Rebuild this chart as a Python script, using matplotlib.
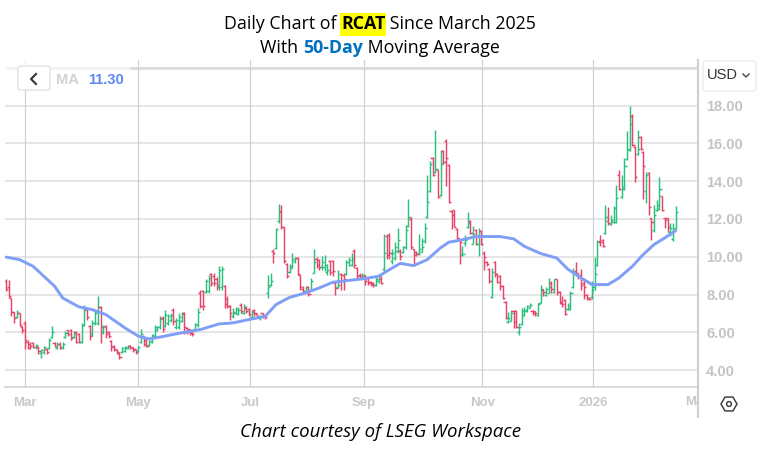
from matplotlib import pyplot as plt
from matplotlib.collections import LineCollection
from matplotlib.lines import Line2D
from matplotlib.patches import FancyBboxPatch, Rectangle, RegularPolygon, Circle
from matplotlib.transforms import Bbox

W, H = 761, 454

opens = [
    8.7, 8.4, 7.8, 7.1, 6.8, 7.0, 6.3, 6.5, 5.5, 5.4,
    5.45, 5.2, 5.25, 4.9, 4.95, 5.1, 5.15, 5.75, 5.45, 5.15,
    5.4, 5.2, 5.75, 6.1, 6.15, 5.75, 6.0, 5.9, 5.5, 6.4,
    7.25, 6.35, 5.9, 6.5, 6.5, 7.35, 6.0, 6.35, 6.0, 5.55,
    5.3, 5.05, 4.9, 4.95, 5.0, 5.15, 5.3, 5.2, 5.1, 5.0,
    5.5, 5.8, 5.6, 5.35, 5.5, 5.8, 6.15, 6.3, 6.75, 6.35,
    6.5, 6.65, 7.2, 6.3, 6.3, 6.6, 7.05, 6.25, 6.2, 6.05,
    6.2, 6.4, 8.1, 8.2, 8.15, 8.2, 9.1, 9.0, 8.85, 8.5,
    8.4, 8.45, 7.75, 7.4, 6.85, 7.0, 6.95, 7.45, 7.0, 7.3,
    7.25, 6.8, 7.2, 6.95, 6.75, 7.0, 6.9, 8.1, 8.5, 10.3,
    10.45, 11.9, 12.4, 11.6, 9.6, 9.2, 9.5, 9.75, 9.95, 9.05,
    8.3, 8.2, 8.4, 8.25, 9.15, 9.9, 9.85, 9.45, 9.45, 9.2,
    9.8, 9.75, 8.6, 8.4, 9.1, 9.05, 9.1, 9.7, 9.55, 10.3,
    9.4, 9.05, 8.9, 9.0, 8.9, 8.65, 8.6, 8.5, 8.7, 8.85,
    9.35, 11.1, 11.15, 9.75, 9.95, 10.3, 10.3, 10.25, 10.5, 11.65,
    12.0, 10.4, 10.25, 10.2, 10.25, 10.85, 12.1, 13.5, 15.2, 14.5,
    14.6, 13.25, 15.6, 16.1, 14.85, 12.4, 12.45, 11.45, 10.9, 10.1,
    10.75, 11.55, 11.9, 10.7, 11.4, 10.7, 11.35, 10.2, 9.7, 9.35,
    7.85, 9.7, 9.1, 9.0, 8.45, 7.6, 6.55, 6.6, 7.15, 7.15,
    6.0, 6.45, 6.9, 7.15, 7.3, 7.15, 7.15, 6.9, 7.55, 8.25,
    8.0, 8.1, 8.6, 8.15, 8.8, 8.15, 7.55, 7.7, 7.25, 7.25,
    8.4, 9.25, 9.1, 9.05, 8.6, 8.0, 7.8, 7.85, 8.4, 9.55,
    10.85, 10.9, 11.25, 11.9, 11.75, 11.85, 11.85, 14.3, 13.15, 13.6,
    15.15, 15.65, 17.45, 15.8, 15.45, 16.35, 15.55, 13.5, 14.45, 12.05,
    11.4, 12.5, 12.55, 13.2, 12.05, 12.05, 11.3, 10.95, 11.5,
]
highs = [
    8.85, 8.75, 7.82, 7.1, 7.17, 7.03, 6.32, 6.6, 5.6, 5.47,
    5.5, 5.4, 5.3, 5.1, 5.3, 5.18, 5.7, 6.33, 5.5, 5.47,
    5.47, 5.47, 6.05, 6.15, 6.2, 6.05, 6.05, 5.95, 6.5, 7.47,
    7.3, 6.4, 6.67, 7.2, 7.95, 7.4, 6.4, 6.4, 6.05, 5.6,
    5.35, 5.1, 4.95, 5.2, 5.3, 5.35, 5.35, 5.25, 5.12, 5.3,
    6.18, 5.8, 5.65, 5.6, 5.9, 6.4, 6.35, 6.85, 6.85, 7.17,
    6.95, 7.0, 7.3, 6.75, 7.0, 7.1, 7.1, 6.3, 6.2, 6.05,
    6.5, 7.3, 8.25, 8.25, 8.8, 9.05, 9.15, 9.15, 8.95, 9.5,
    9.5, 8.5, 7.9, 7.45, 7.3, 7.35, 7.35, 7.55, 7.5, 7.4,
    7.3, 7.2, 7.25, 6.95, 6.9, 7.0, 6.9, 9.05, 9.15, 10.4,
    11.5, 12.8, 12.75, 11.6, 9.67, 9.6, 10.2, 10.0, 10.0, 9.05,
    8.45, 8.45, 8.45, 8.9, 10.4, 10.0, 9.9, 10.05, 10.1, 9.6,
    9.85, 9.85, 8.7, 9.3, 9.15, 9.15, 9.85, 10.0, 10.2, 10.4,
    9.45, 9.15, 9.15, 9.05, 8.95, 8.7, 8.65, 9.0, 9.1, 9.0,
    11.2, 11.2, 11.25, 10.4, 10.8, 11.5, 10.4, 10.55, 11.7, 13.05,
    12.1, 10.4, 10.3, 11.2, 11.0, 11.8, 14.35, 15.05, 15.3, 16.7,
    14.6, 15.65, 15.65, 16.25, 14.9, 12.5, 12.5, 11.5, 10.9, 10.55,
    11.15, 12.35, 11.95, 11.65, 11.45, 11.5, 11.4, 10.3, 9.75, 9.4,
    9.4, 9.76, 9.15, 9.05, 8.5, 7.65, 7.1, 7.2, 7.2, 7.2,
    6.5, 7.3, 7.35, 7.45, 7.55, 7.2, 7.15, 7.55, 8.5, 8.3,
    8.4, 8.9, 8.7, 8.85, 8.85, 8.2, 7.9, 7.75, 7.55, 8.2,
    9.4, 9.7, 9.15, 9.35, 8.75, 8.05, 7.85, 8.7, 10.0, 10.9,
    11.15, 10.95, 12.75, 12.65, 12.2, 12.7, 13.8, 14.6, 14.35, 15.2,
    16.65, 18.0, 17.55, 15.85, 16.7, 16.4, 15.6, 14.5, 14.5, 12.05,
    12.75, 13.0, 14.2, 13.2, 12.05, 12.05, 11.8, 11.8, 12.7,
]
lows = [
    8.2, 7.82, 6.85, 6.5, 6.77, 6.32, 5.97, 5.1, 5.1, 5.13,
    5.18, 5.13, 4.83, 4.65, 4.83, 4.83, 5.1, 5.7, 5.25, 5.1,
    5.1, 5.13, 5.7, 5.8, 5.6, 5.7, 5.45, 5.45, 5.45, 6.33,
    6.67, 5.6, 5.8, 6.4, 6.4, 5.45, 5.9, 5.7, 5.7, 5.0,
    5.0, 4.83, 4.6, 4.9, 4.95, 5.1, 5.1, 4.95, 4.83, 4.95,
    5.45, 5.27, 5.23, 5.27, 5.45, 5.7, 6.05, 6.2, 6.0, 6.3,
    6.4, 6.55, 6.4, 6.2, 6.2, 6.55, 5.9, 5.9, 5.85, 5.8,
    6.15, 6.3, 7.3, 7.2, 8.1, 8.1, 8.45, 8.45, 8.25, 8.25,
    8.25, 7.3, 7.3, 6.67, 6.75, 6.95, 6.9, 7.0, 6.95, 7.05,
    6.85, 6.75, 6.85, 6.75, 6.67, 6.75, 6.7, 7.82, 8.45, 9.67,
    10.4, 11.8, 11.45, 9.67, 8.9, 9.15, 9.4, 9.67, 9.05, 8.25,
    8.1, 8.15, 7.9, 8.25, 9.15, 9.4, 9.3, 9.3, 9.25, 9.05,
    9.05, 9.0, 8.0, 8.35, 8.25, 8.25, 9.05, 9.5, 9.5, 9.4,
    8.9, 8.9, 8.85, 8.5, 8.5, 8.45, 8.4, 8.45, 8.6, 8.55,
    9.25, 9.9, 9.9, 9.64, 9.85, 10.2, 9.85, 10.2, 10.4, 11.6,
    10.4, 9.64, 10.05, 10.1, 10.25, 10.75, 12.05, 13.45, 14.25, 14.45,
    13.1, 13.2, 14.9, 13.75, 12.85, 11.45, 11.55, 10.95, 9.6, 10.05,
    10.55, 11.5, 11.2, 10.65, 10.6, 10.05, 10.6, 9.3, 9.5, 8.6,
    7.8, 8.95, 8.6, 8.25, 7.75, 6.7, 6.5, 6.6, 6.25, 6.25,
    5.85, 6.4, 6.85, 7.1, 7.3, 6.9, 6.85, 6.85, 7.55, 7.95,
    7.95, 8.1, 8.1, 8.1, 8.0, 7.5, 7.35, 6.9, 7.2, 7.2,
    8.35, 9.0, 8.8, 8.25, 7.75, 7.7, 7.7, 7.75, 8.25, 9.5,
    10.55, 10.5, 11.2, 11.7, 11.7, 11.8, 11.8, 13.55, 13.1, 13.55,
    15.1, 15.6, 15.85, 13.95, 15.4, 15.65, 13.05, 12.85, 12.2, 10.9,
    11.3, 12.4, 12.5, 12.4, 11.5, 11.3, 11.1, 10.85, 11.45,
]
closes = [
    8.3, 7.9, 7.1, 6.75, 7.05, 6.4, 6.1, 5.6, 5.15, 5.3,
    5.25, 5.35, 5.0, 5.05, 5.2, 4.95, 5.6, 6.0, 5.3, 5.4,
    5.15, 5.4, 5.95, 5.9, 5.7, 5.95, 5.5, 5.5, 6.4, 7.2,
    6.8, 5.8, 6.5, 7.0, 7.35, 6.3, 6.3, 5.9, 5.8, 5.2,
    5.1, 4.95, 4.7, 5.15, 5.2, 5.3, 5.15, 5.05, 4.95, 5.25,
    5.9, 5.4, 5.3, 5.55, 5.85, 6.3, 6.3, 6.7, 6.2, 6.9,
    6.85, 6.9, 6.6, 6.65, 6.8, 6.95, 6.3, 6.0, 5.95, 5.9,
    6.45, 7.1, 7.4, 7.4, 8.7, 8.9, 8.6, 8.6, 8.4, 9.3,
    9.35, 7.5, 7.4, 7.0, 7.1, 7.25, 7.2, 7.15, 7.35, 7.15,
    6.95, 7.1, 7.0, 6.85, 6.85, 6.85, 6.8, 8.4, 8.7, 10.2,
    11.45, 12.35, 11.6, 9.75, 9.0, 9.4, 9.9, 9.95, 9.1, 8.4,
    8.2, 8.4, 8.05, 8.7, 9.7, 9.55, 9.45, 9.7, 9.55, 9.3,
    9.2, 9.25, 8.35, 8.5, 8.7, 8.85, 9.7, 9.85, 9.9, 9.55,
    9.0, 9.0, 9.05, 8.7, 8.6, 8.55, 8.5, 8.85, 9.0, 8.6,
    10.2, 10.1, 10.2, 10.2, 10.5, 10.9, 10.05, 10.5, 11.4, 12.1,
    10.5, 10.1, 10.15, 10.4, 10.5, 11.5, 12.9, 14.9, 14.3, 14.65,
    13.15, 14.9, 15.0, 15.2, 12.9, 12.2, 11.6, 11.0, 10.8, 10.15,
    10.9, 11.8, 11.25, 11.2, 10.7, 11.1, 10.65, 10.0, 9.6, 8.7,
    9.2, 9.1, 8.65, 8.45, 7.8, 6.75, 6.75, 7.0, 6.55, 6.3,
    6.3, 7.15, 7.2, 7.4, 7.45, 7.0, 7.0, 7.5, 8.3, 8.15,
    8.3, 8.4, 8.3, 8.8, 8.15, 7.6, 7.5, 6.95, 7.4, 8.1,
    9.2, 9.15, 8.95, 8.5, 8.4, 7.8, 7.75, 8.25, 9.1, 10.8,
    10.8, 10.55, 12.1, 11.8, 11.95, 12.6, 13.1, 13.6, 13.7, 14.8,
    15.7, 17.0, 15.9, 14.2, 15.7, 15.7, 14.8, 14.3, 12.65, 11.85,
    12.2, 12.75, 13.6, 12.5, 11.95, 11.55, 11.5, 11.4, 12.35,
]

ma_days = [0, 5, 10, 14, 18, 21, 27, 32, 37, 44, 49, 53, 57, 64, 72, 79, 84, 90,
           96, 100, 105, 111, 116, 121, 127, 132, 138, 142, 146, 151, 156, 161,
           164, 169, 174, 183, 188, 192, 198, 204, 208, 213, 217, 223, 227, 232,
           236, 240, 244, 248]
ma_values = [9.98, 9.85, 9.5, 8.97, 8.44, 7.82, 7.35, 7.2, 6.94, 6.24, 5.8, 5.65,
             5.75, 5.95, 6.15, 6.45, 6.5, 6.68, 6.85, 7.47, 7.85, 8.09, 8.35, 8.65,
             8.75, 8.83, 8.97, 9.32, 9.65, 9.53, 9.85, 10.48, 10.77, 10.9, 11.07,
             11.07, 10.95, 10.55, 10.17, 9.93, 9.35, 8.88, 8.53, 8.53, 8.88, 9.5,
             10.12, 10.65, 11.0, 11.38]

month_days = [7, 49, 90.4, 132.5, 176.4, 217.3]
month_labels = ['Mar', 'May', 'Jul', 'Sep', 'Nov', '2026']
price_ticks = [4, 6, 8, 10, 12, 14, 16, 18]
grid_prices = [4, 6, 8, 10, 12, 14, 16, 18, 20]

GREEN = '#2cc07f'
RED = '#e8446a'
AXIS_FONT = 'Liberation Sans'
TITLE_FONT = 'Open Sans'


def fx(px):
    return px / W


def fy(py):
    return 1 - py / H


fig = plt.figure(figsize=(W / 100, H / 100), dpi=100, facecolor='white')

# main chart area, pixel box 5..697 x 60..387
ax = fig.add_axes([fx(5), fy(387), (697 - 5) / W, (387 - 60) / H])
ax.set_xlim(-0.37, 255.9)
ax.set_ylim(3.11, 20.41)
ax.set_facecolor('white')
for side in ['top', 'left', 'right']:
    ax.spines[side].set_visible(False)
ax.spines['bottom'].set_color('#d2d2d6')
ax.spines['bottom'].set_linewidth(1.2)

for p in grid_prices:
    ax.axhline(p, color='#dfdfe2', lw=1.1, zorder=1)
for d in month_days:
    ax.axvline(d, color='#cdcdd2', lw=0.85, zorder=1)
ax.axhline(20, color='#dadadc', lw=1.8, zorder=1)

ax.yaxis.tick_right()
ax.set_yticks(price_ticks, [f'{p:.2f}' for p in price_ticks])
ax.set_xticks(month_days, month_labels)
ax.tick_params(axis='y', length=0, pad=6.5, labelcolor='#c4c4c4', labelsize=10.5)
ax.tick_params(axis='x', length=0, pad=7.5, labelcolor='#c8c8c8', labelsize=9.5)
for lab in ax.get_yticklabels():
    lab.set_fontfamily(AXIS_FONT)
    lab.set_fontweight('bold')
for lab in ax.get_xticklabels():
    lab.set_fontfamily(AXIS_FONT)
    lab.set_fontweight('bold')

# open/high/low/close bars
segs = []
cols = []
for i in range(len(opens)):
    c = GREEN if closes[i] >= opens[i] else RED
    segs.append([(i, lows[i]), (i, highs[i])])
    segs.append([(i - 0.8, opens[i]), (i, opens[i])])
    segs.append([(i, closes[i]), (i + 0.8, closes[i])])
    cols += [c, c, c]
ax.add_collection(LineCollection(segs, colors=cols, linewidths=1.05, zorder=3))

ax.plot(ma_days, ma_values, color='#7f9ef5', lw=2.1, zorder=4, solid_joinstyle='round', solid_capstyle='round')

# wash over the top grid line behind the MA legend
fig.add_artist(Rectangle((fx(5), fy(74)), fx(125), 14 / H, transform=fig.transFigure, fc='white', ec='none', alpha=0.65, zorder=5))

# right pane border
fig.add_artist(Line2D([fx(698), fx(698)], [fy(60), fy(417)], color='#cfcfd2', lw=1.5, zorder=6))

# clipped Mar label at right edge
tx = fig.text(fx(685), fy(402), 'Mar', color='#c8c8c8', fontsize=9.5, fontfamily=AXIS_FONT,
              fontweight='bold', ha='left', va='center', zorder=6)
tx.set_clip_box(Bbox([[0, 0], [697, H]]))
tx.set_clip_on(True)

# back button
fig.add_artist(FancyBboxPatch((fx(18), fy(90)), 32 / W, 24 / H, boxstyle='round,pad=0,rounding_size=0.004',
                              transform=fig.transFigure, fc='white', ec='#e2e2e2', lw=1, zorder=7))
fig.add_artist(Line2D([fx(36), fx(31), fx(36)], [fy(74), fy(79), fy(84)], color='#333333', lw=1.5, zorder=8))
fig.text(fx(56), fy(80), 'MA', color='#d2d2d2', fontsize=10.5, fontfamily=AXIS_FONT, fontweight='bold',
         ha='left', va='center', zorder=8)
fig.text(fx(88), fy(80), '11.30', color='#5f86f2', fontsize=10.5, fontfamily=AXIS_FONT, fontweight='bold',
         ha='left', va='center', zorder=8)

# currency box
fig.add_artist(FancyBboxPatch((fx(703), fy(91)), 53 / W, 30 / H, boxstyle='round,pad=0,rounding_size=0.005',
                              transform=fig.transFigure, fc='white', ec='#ececec', lw=1, zorder=7))
fig.text(fx(707), fy(75), 'USD', color='#333333', fontsize=10.5, fontfamily=AXIS_FONT, ha='left', va='center', zorder=8)
fig.add_artist(Line2D([fx(743), fx(746), fx(749)], [fy(74), fy(77), fy(74)], color='#444444', lw=1, zorder=8))

# settings icon
overlay = fig.add_axes([0, 0, 1, 1], zorder=9)
overlay.set_xlim(0, W)
overlay.set_ylim(H, 0)
overlay.axis('off')
overlay.patch.set_alpha(0)
overlay.add_patch(RegularPolygon((729, 404), 6, radius=8, orientation=0.5236, fc='white', ec='#444444', lw=1.1))
overlay.add_patch(Circle((729, 404), 2.4, fc='white', ec='#444444', lw=1.1))


def pieces(parts, center, py, size):
    # lay text runs side by side, centred on a pixel x
    r = fig.canvas.get_renderer()
    made = []
    total = 0
    for s, col, weight in parts:
        t = fig.text(0, fy(py), s, color=col, fontweight=weight, fontsize=size, fontfamily=TITLE_FONT,
                     va='center', ha='left', zorder=11)
        w = t.get_window_extent(r).width
        made.append((t, w))
        total += w
    x = center - total / 2
    spans = []
    for t, w in made:
        t.set_x(fx(x))
        spans.append((x, x + w))
        x += w
    return spans


line1 = pieces([('Daily Chart of ', 'black', 'normal'), ('RCAT', 'black', 'bold'),
                (' Since March 2025', 'black', 'normal')], 380, 24, 12.8)
pieces([('With ', 'black', 'normal'), ('50-Day', '#0070c0', 'bold'), (' Moving Average', 'black', 'normal')], 380, 48, 12.8)
x0, x1 = line1[1]
overlay.add_patch(Rectangle((x0 - 1, 13), x1 - x0 + 2, 23, fc='#ffff00', ec='none', zorder=1))

fig.text(fx(380), fy(432), 'Chart courtesy of LSEG Workspace', color='black', fontsize=13.4, style='italic',
         fontfamily=TITLE_FONT, ha='center', va='center')

fig.savefig('out.png', dpi=100)
